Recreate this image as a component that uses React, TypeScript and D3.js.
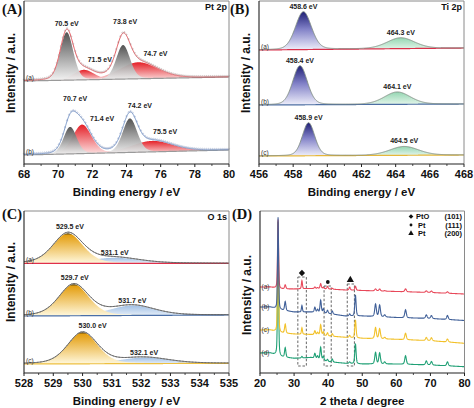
import React from "react";
import * as d3 from "d3";

const SANS = "'Liberation Sans', Arial, sans-serif";
const SERIF = "'Liberation Serif', 'Times New Roman', serif";

// ---------- Pt 2p (A) ----------
const ptDomain = [68, 80];
const ptTicks = [68, 70, 72, 74, 76, 78, 80];
const ptSpectra = ["(a)", "(b)"];
// background intensity at the low / high end of the window
const ptBackground = [
  [83, 87],
  [9, 14],
];
const ptPeaks = [
  { s: 0, center: 70.5, height: 48, fwhm: 0.9, kind: "main" },
  { s: 0, center: 73.8, height: 34, fwhm: 0.95, kind: "main" },
  { s: 0, center: 71.5, height: 10, fwhm: 1.4, kind: "side" },
  { s: 0, center: 74.7, height: 16.5, fwhm: 2.6, kind: "side" },
  { s: 1, center: 70.7, height: 27, fwhm: 0.9, kind: "main" },
  { s: 1, center: 74.2, height: 34, fwhm: 1.0, kind: "main" },
  { s: 1, center: 71.4, height: 29, fwhm: 1.3, kind: "side" },
  { s: 1, center: 75.5, height: 11, fwhm: 2.8, kind: "side" },
];

// ---------- Ti 2p (B) ----------
const tiDomain = [456, 468];
const tiTicks = [456, 458, 460, 462, 464, 466, 468];
const tiSpectra = ["(a)", "(b)", "(c)"];
const tiBackground = [
  [114, 116],
  [59, 60],
  [8, 9],
];
const tiPeaks = [
  { s: 0, center: 458.6, height: 37.8, fwhm: 1.1, kind: "main" },
  { s: 0, center: 464.3, height: 10.8, fwhm: 1.9, kind: "side" },
  { s: 1, center: 458.4, height: 39, fwhm: 1.0, kind: "main" },
  { s: 1, center: 464.1, height: 12.3, fwhm: 1.8, kind: "side" },
  { s: 2, center: 458.9, height: 33, fwhm: 0.85, kind: "main" },
  { s: 2, center: 464.5, height: 8.8, fwhm: 2.0, kind: "side" },
];

// ---------- O 1s (C) ----------
const oDomain = [528, 535];
const oTicks = [528, 529, 530, 531, 532, 533, 534, 535];
const oSpectra = ["(a)", "(b)", "(c)"];
const oBackground = [
  [109.7, 109.7],
  [57, 58],
  [9, 9.7],
];
const oPeaks = [
  { s: 0, center: 529.5, height: 30, fwhm: 1.2, kind: "main" },
  { s: 0, center: 531.1, height: 5.5, fwhm: 2.0, kind: "side" },
  { s: 1, center: 529.7, height: 31.5, fwhm: 1.2, kind: "main" },
  { s: 1, center: 531.7, height: 10, fwhm: 1.8, kind: "side" },
  { s: 2, center: 530.0, height: 31.5, fwhm: 1.2, kind: "main" },
  { s: 2, center: 532.1, height: 6, fwhm: 2.0, kind: "side" },
];

// ---------- XRD (D) ----------
const xrdDomain = [20, 80];
const xrdTicks = [20, 30, 40, 50, 60, 70, 80];
const xrdSamples = ["(a)", "(b)", "(c)", "(d)"];
const xrdPeakAngles = [25.3, 27.4, 32.3, 36.1, 36.9, 37.8, 38.6, 39.8, 41.2, 46.3, 48.0, 53.9, 55.1, 56.6, 62.7, 68.8, 70.3, 75.0];
const xrdPeakWidths = [0.35, 0.45, 0.35, 0.45, 0.45, 0.45, 0.45, 0.45, 0.45, 0.45, 0.45, 0.55, 0.55, 0.55, 0.55, 0.55, 0.55, 0.55];
const xrdHeightsA = [69, 4, 8, 1.5, 1, 5, 1.5, 2.5, 1, 3, 4, 2, 2, 0.5, 3, 1.5, 1.5, 1.5];
const xrdHeightsB = [92, 9, 6.5, 5, 3, 12.5, 4, 3, 3, 2, 21, 12.5, 11.5, 2, 8, 3.5, 3, 4];
const xrdHeightsC = [111, 9, 6.5, 4, 2.5, 10.5, 3.5, 3, 2.5, 2, 18, 11, 10, 1.5, 6.5, 3, 3, 3];
const xrdHeightsD = [134, 9.5, 1.5, 5, 3, 12.5, 4, 2, 3, 1.5, 20, 11.5, 11, 2, 8.5, 4, 3.5, 4];
const xrdBaseAngles = [20, 23, 26, 30, 35, 40, 45, 50, 60, 70, 80];
const xrdBaseA = [86, 86, 84, 84, 84.5, 84, 83, 82.5, 81.5, 80.5, 79];
const xrdBaseB = [66, 66, 63, 61, 61, 59.5, 57, 57, 55.5, 54.5, 52.5];
const xrdBaseC = [43, 43, 40, 39, 38.5, 37, 35.7, 34.7, 33.7, 32.3, 29.7];
const xrdBaseD = [20, 20, 16, 14.7, 15.5, 11.3, 9.7, 9, 9, 8, 6.3];
const phaseNames = ["PtO", "Pt", "Pt"];
const phaseIndices = ["(101)", "(111)", "(200)"];
const phaseAngles = [32.3, 39.9, 46.5];
const phaseBoxes = [
  [31.1, 33.6],
  [38.8, 40.9],
  [45.6, 47.7],
];

// panel boxes
const frameA = { x0: 24, x1: 229, y0: 1, y1: 164 };
const frameB = { x0: 259, x1: 464, y0: 1, y1: 164 };
const frameC = { x0: 24, x1: 229, y0: 211, y1: 373 };
const frameD = { x0: 260, x1: 464.5, y0: 211, y1: 373 };

// label offsets (px) from each component apex to the text baseline
const ptLabelShift = [[0, -6.5], [2, -21.5], [16, -7.5], [17, -6.5], [5, -25.5], [10, -10.5], [20, -3.5], [13, -6.5]];
const tiLabelShift = [[0, -3], [0, -3], [0, -3], [0, -3], [0, -3], [0, -3]];
const oLabelShift = [[2, -4.5], [0, -2.5], [1, -4.5], [0, -2.5], [10, -4.5], [0, -2.5]];

// pseudo-Voigt line shape
function profile(e: number, center: number, height: number, fwhm: number, mix: number) {
  const t = (e - center) / fwhm;
  return height * ((1 - mix) * Math.exp(-4 * Math.LN2 * t * t) + mix / (1 + 4 * t * t));
}

function Axes({ f, x, ticks, minor, xTitle, yTitleY, letter, letterX, letterY }: any) {
  return (
    <g>
      {minor.map((t: number) => (
        <line key={"m" + t} x1={x(t)} x2={x(t)} y1={f.y1} y2={f.y1 + 2} stroke="#222" strokeWidth={0.8} />
      ))}
      {ticks.map((t: number) => (
        <g key={t}>
          <line x1={x(t)} x2={x(t)} y1={f.y1} y2={f.y1 + 3} stroke="#222" strokeWidth={1} />
          <text x={x(t)} y={f.y1 + 14} textAnchor="middle" fontSize={11} fontWeight="bold" fill="#111">
            {t}
          </text>
        </g>
      ))}
      <path d={`M${f.x0},${f.y0}H${f.x1}V${f.y1}`} fill="none" stroke="#8a8a8a" strokeWidth={1} />
      <path d={`M${f.x0},${f.y0}V${f.y1}H${f.x1}`} fill="none" stroke="#222" strokeWidth={1.1} />
      <text x={(f.x0 + f.x1) / 2} y={f.y1 + 31.5} textAnchor="middle" fontSize={11.5} fontWeight="bold" fill="#111">
        {xTitle}
      </text>
      <text
        transform={`translate(${f.x0 - 9.5},${yTitleY}) rotate(-90)`}
        textAnchor="middle"
        fontSize={12}
        fontWeight="bold"
        fill="#111"
      >
        Intensity / a.u.
      </text>
      <text x={letterX} y={letterY} fontFamily={SERIF} fontSize={14.5} fontWeight="bold" fill="#111">
        {letter}
      </text>
    </g>
  );
}

function Gradient({ id, stops }: any) {
  return (
    <linearGradient id={id} x1="0" y1="0" x2="0" y2="1">
      {stops.map((s: any, i: number) => (
        <stop key={i} offset={s[0]} stopColor={s[1]} />
      ))}
    </linearGradient>
  );
}

function XpsPanel(props: any) {
  const { id, f, domain, ticks, minorStep, spectra, background, peaks, shifts, fills, bgColors, envStroke, dotColors, dashed, mix, tag, yTitleY, letter, letterX, letterY } = props;
  const x = d3.scaleLinear().domain(domain).range([f.x0, f.x1]);
  const y = d3.scaleLinear().domain([0, f.y1 - f.y0]).range([f.y1, f.y0]);
  const grid = d3.range(domain[0], domain[1] + 1e-6, 0.02);
  const minor = d3.range(domain[0], domain[1] + 1e-6, minorStep).filter((t) => !ticks.includes(+t.toFixed(3)));
  const bgOf = spectra.map((_: any, i: number) => d3.scaleLinear().domain(domain).range(background[i]));
  const area = d3
    .area<number[]>()
    .x((d) => x(d[0]))
    .y0((d) => y(d[1]))
    .y1((d) => y(d[2]));
  const line = d3
    .line<number[]>()
    .x((d) => x(d[0]))
    .y((d) => y(d[1]));

  const envelopes = spectra.map((_: any, i: number) =>
    grid.map((e) => [e, bgOf[i](e) + d3.sum(peaks.filter((p: any) => p.s === i), (p: any) => profile(e, p.center, p.height, p.fwhm, mix))])
  );
  const drawOrder = [...peaks].sort((a: any, b: any) => (a.kind === b.kind ? 0 : a.kind === "side" ? -1 : 1));

  return (
    <g fontFamily={SANS}>
      <defs>
        <Gradient id={id + "-main"} stops={fills.main} />
        <Gradient id={id + "-side"} stops={fills.side} />
      </defs>
      {spectra.map((name: string, i: number) => (
        <g key={name}>
          {drawOrder
            .filter((p: any) => p.s === i)
            .map((p: any) => (
              <path
                key={p.center}
                d={area(grid.map((e) => [e, bgOf[i](e), bgOf[i](e) + profile(e, p.center, p.height, p.fwhm, mix)])) || ""}
                fill={`url(#${id}-${p.kind})`}
                fillOpacity={0.95}
              />
            ))}
          <path d={line(grid.map((e) => [e, bgOf[i](e)])) || ""} fill="none" stroke={bgColors[i]} strokeWidth={1.2} />
          {dashed && (
            <path d={line(envelopes[i]) || ""} fill="none" stroke="#8f8f8f" strokeWidth={0.9} strokeDasharray="1.6,1.6" />
          )}
          <path d={line(envelopes[i]) || ""} fill="none" stroke={envStroke[i]} strokeWidth={0.9} />
          {dotColors &&
            envelopes[i]
              .filter((_: any, k: number) => k % 6 === 0)
              .map((d: number[], k: number) => (
                <circle key={k} cx={x(d[0])} cy={y(d[1]) - 0.8} r={0.7} fill="none" stroke={dotColors[i]} strokeWidth={0.5} strokeOpacity={0.75} />
              ))}
          <text x={f.x0 + 2} y={y(background[i][0]) - 1.5} fontSize={6.5} fill="#333">
            {name}
          </text>
        </g>
      ))}
      {peaks.map((p: any, k: number) => (
        <text
          key={"l" + k}
          x={x(p.center) + shifts[k][0]}
          y={y(bgOf[p.s](p.center) + p.height) + shifts[k][1]}
          textAnchor="middle"
          fontSize={7}
          fontWeight="bold"
          fill="#222"
        >
          {p.center.toFixed(1)} eV
        </text>
      ))}
      <text x={f.x1 - 2} y={f.y0 + 9} textAnchor="end" fontSize={9} fontWeight="bold" fill="#111">
        {tag}
      </text>
      <Axes f={f} x={x} ticks={ticks} minor={minor} xTitle="Binding energy / eV" yTitleY={yTitleY} letter={letter} letterX={letterX} letterY={letterY} />
    </g>
  );
}

function XrdPanel() {
  const f = frameD;
  const x = d3.scaleLinear().domain(xrdDomain).range([f.x0, f.x1]);
  const y = d3.scaleLinear().domain([0, f.y1 - f.y0]).range([f.y1, f.y0]);
  const grid = d3.range(20, 80.0001, 0.05);
  const heights = [xrdHeightsA, xrdHeightsB, xrdHeightsC, xrdHeightsD];
  const bases = [xrdBaseA, xrdBaseB, xrdBaseC, xrdBaseD];
  const colors = ["#e8485a", "#3f5f98", "#f2c12a", "#1fa075"];
  const line = d3
    .line<number[]>()
    .x((d) => x(d[0]))
    .y((d) => y(d[1]));
  const patterns = xrdSamples.map((_, i) => {
    const base = d3.scaleLinear().domain(xrdBaseAngles).range(bases[i]);
    return grid.map((a) => [a, base(a) + d3.sum(xrdPeakAngles, (c, k) => profile(a, c, heights[i][k], xrdPeakWidths[k], 0.4))]);
  });
  const minor = d3.range(25, 80, 10);
  const markLevels = [100, 91, 93];
  const symbols = [d3.symbolSquare, d3.symbolCircle, d3.symbolTriangle];
  const symbolSizes = [14, 8, 16];
  const symbolRot = [45, 0, 0];
  const boxTop = [96, 87, 89];

  return (
    <g fontFamily={SANS}>
      {phaseBoxes.map((b, k) => (
        <rect
          key={"b" + k}
          x={x(b[0])}
          y={y(boxTop[k])}
          width={x(b[1]) - x(b[0])}
          height={y(7) - y(boxTop[k])}
          fill="none"
          stroke="#555"
          strokeWidth={0.9}
          strokeDasharray="2.5,1.8"
        />
      ))}
      {[3, 2, 0, 1].map((i) => (
        <path key={i} d={line(patterns[i]) || ""} fill="none" stroke={colors[i]} strokeWidth={1.1} />
      ))}
      {xrdSamples.map((name, i) => (
        <text key={name} x={f.x0 + 1.5} y={y(bases[i][0]) + 2} fontSize={6.5} fill="#333">
          {name}
        </text>
      ))}
      {phaseAngles.map((a, k) => (
        <path
          key={"s" + k}
          transform={`translate(${x(a)},${y(markLevels[k])}) rotate(${symbolRot[k]})`}
          d={d3.symbol(symbols[k], symbolSizes[k] * 1.4)() || ""}
          fill="#111"
        />
      ))}
      {phaseNames.map((n, k) => (
        <g key={"g" + k} fontSize={7.5} fontWeight="bold" fill="#111">
          <path
            transform={`translate(411,${216.5 + k * 8.5}) rotate(${symbolRot[k]})`}
            d={d3.symbol(symbols[k], symbolSizes[k] * 0.8)() || ""}
            fill="#111"
          />
          <text x={k === 0 ? 416 : 418} y={219 + k * 8.5}>
            {n}
          </text>
          <text x={462} y={219 + k * 8.5} textAnchor="end">
            {phaseIndices[k]}
          </text>
        </g>
      ))}
      <Axes f={f} x={x} ticks={xrdTicks} minor={minor} xTitle="2 theta / degree" yTitleY={295} letter="(D)" letterX={232} letterY={219} />
    </g>
  );
}

export default function App() {
  return (
    <svg width={474} height={408} style={{ position: "absolute", left: 0, top: 0, background: "#fff" }}>
      <rect width={474} height={408} fill="#fff" />
      <XpsPanel
        id="pt"
        f={frameA}
        domain={ptDomain}
        ticks={ptTicks}
        minorStep={1}
        spectra={ptSpectra}
        background={ptBackground}
        peaks={ptPeaks}
        shifts={ptLabelShift}
        mix={0.2}
        fills={{
          main: [[0, "#4a4a4a"], [1, "#f4f4f4"]],
          side: [[0, "#e3141c"], [1, "#fde6e6"]],
        }}
        bgColors={["#9a9a9a", "#9a9a9a"]}
        envStroke={["#e2474f", "#6d8ec4"]}
        dotColors={["#a08888", "#8094bc"]}
        tag="Pt 2p"
        yTitleY={73}
        letter="(A)"
        letterX={2}
        letterY={14}
      />
      <XpsPanel
        id="ti"
        f={frameB}
        domain={tiDomain}
        ticks={tiTicks}
        minorStep={1}
        spectra={tiSpectra}
        background={tiBackground}
        peaks={tiPeaks}
        shifts={tiLabelShift}
        mix={0.2}
        fills={{
          main: [[0, "#14146e"], [0.45, "#7a7ac4"], [1, "#eeeefa"]],
          side: [[0, "#8fd4ae"], [1, "#e6f6ec"]],
        }}
        bgColors={["#d9304a", "#4d6fa3", "#e6b73a"]}
        envStroke={["#7d8a80", "#7d8a80", "#7d8a80"]}
        tag="Ti 2p"
        yTitleY={73}
        letter="(B)"
        letterX={230}
        letterY={14}
      />
      <XpsPanel
        id="o"
        f={frameC}
        domain={oDomain}
        ticks={oTicks}
        minorStep={0.5}
        spectra={oSpectra}
        background={oBackground}
        peaks={oPeaks}
        shifts={oLabelShift}
        mix={0.3}
        fills={{
          main: [[0, "#4a3500"], [0.07, "#e39a05"], [1, "#fff8dc"]],
          side: [[0, "#9dbde3"], [1, "#e6eff9"]],
        }}
        bgColors={["#e0304a", "#4a6fa8", "#eec040"]}
        envStroke={["#4a4a4a", "#4a4a4a", "#4a4a4a"]}
        dashed
        tag="O 1s"
        yTitleY={282}
        letter="(C)"
        letterX={2}
        letterY={219}
      />
      <XrdPanel />
    </svg>
  );
}
